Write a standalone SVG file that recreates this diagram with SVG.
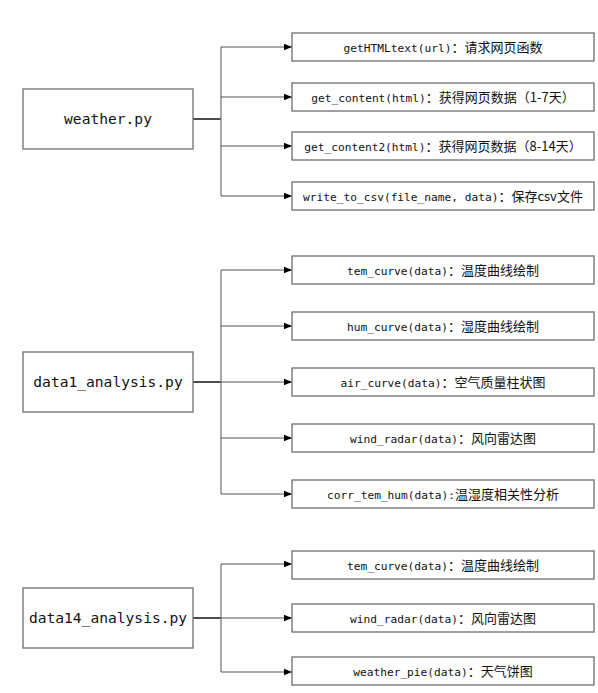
<svg xmlns="http://www.w3.org/2000/svg" width="598" height="693" viewBox="0 0 598 693">
<defs>
<style>
.box{fill:#fff;stroke:#6e6e6e;stroke-width:1.3}
.trunk{fill:none;stroke:#7a7a7a;stroke-width:1.3}
.main{fill:none;stroke:#111;stroke-width:1.5}
.br{fill:none;stroke:#555;stroke-width:1.2;marker-end:url(#ah)}
.mt{font-family:"DejaVu Sans Mono","Liberation Mono",monospace;font-size:14.6px;fill:#111;text-anchor:middle}
.ft{font-family:"DejaVu Sans Mono","Liberation Mono",monospace;font-size:11.2px;fill:#111;text-anchor:middle}
.cj{font-family:"Noto Sans CJK SC",sans-serif;font-size:13px}
</style>
<marker id="ah" viewBox="0 0 10 10" refX="10" refY="5" markerWidth="8" markerHeight="8" markerUnits="userSpaceOnUse" orient="auto">
<path d="M0,1 L10,5 L0,9 Z" fill="#000"/>
</marker>
</defs>
<rect width="598" height="693" fill="#fff"/>
<g id="connectors">
<path class="main" d="M193,119 H221"/>
<path class="trunk" d="M221,47 V196"/>
<path class="br" d="M221,47 H292"/>
<path class="br" d="M221,97 H292"/>
<path class="br" d="M221,146 H292"/>
<path class="br" d="M221,196 H292"/>
<path class="main" d="M193,382 H221"/>
<path class="trunk" d="M221,270 V494"/>
<path class="br" d="M221,270 H292"/>
<path class="br" d="M221,326 H292"/>
<path class="br" d="M221,382 H292"/>
<path class="br" d="M221,438 H292"/>
<path class="br" d="M221,494 H292"/>
<path class="main" d="M193,618 H221"/>
<path class="trunk" d="M221,564 V672"/>
<path class="br" d="M221,564 H292"/>
<path class="br" d="M221,618 H292"/>
<path class="br" d="M221,672 H292"/>
</g>
<g id="weather"><rect class="box" x="23" y="89" width="170" height="60"/><text class="mt" x="108" y="124">weather.py</text></g>
<g id="getHTMLtext"><rect class="box" x="292" y="33" width="302" height="28"/><text class="ft" x="443" y="51.5">getHTMLtext(url)<tspan class="cj">：请求网页函数</tspan></text></g>
<g id="get_content"><rect class="box" x="292" y="83" width="302" height="28"/><text class="ft" x="443" y="101.5">get_content(html)<tspan class="cj">：获得网页数据（1-7天）</tspan></text></g>
<g id="get_content2"><rect class="box" x="292" y="132" width="302" height="28"/><text class="ft" x="443" y="150.5">get_content2(html)<tspan class="cj">：获得网页数据（8-14天）</tspan></text></g>
<g id="write_to_csv"><rect class="box" x="292" y="182" width="302" height="28"/><text class="ft" x="443" y="200.5">write_to_csv(file_name, data)<tspan class="cj">：保存csv文件</tspan></text></g>

<g id="data1"><rect class="box" x="23" y="352" width="170" height="60"/><text class="mt" x="108" y="387">data1_analysis.py</text></g>
<g id="tem_curve1"><rect class="box" x="292" y="256" width="302" height="28"/><text class="ft" x="443" y="274.5">tem_curve(data)<tspan class="cj">：温度曲线绘制</tspan></text></g>
<g id="hum_curve"><rect class="box" x="292" y="312" width="302" height="28"/><text class="ft" x="443" y="330.5">hum_curve(data)<tspan class="cj">：湿度曲线绘制</tspan></text></g>
<g id="air_curve"><rect class="box" x="292" y="368" width="302" height="28"/><text class="ft" x="443" y="386.5">air_curve(data)<tspan class="cj">：空气质量柱状图</tspan></text></g>
<g id="wind_radar1"><rect class="box" x="292" y="424" width="302" height="28"/><text class="ft" x="443" y="442.5">wind_radar(data)<tspan class="cj">：风向雷达图</tspan></text></g>
<g id="corr"><rect class="box" x="292" y="480" width="302" height="28"/><text class="ft" x="443" y="498.5">corr_tem_hum(data):<tspan class="cj">温湿度相关性分析</tspan></text></g>

<g id="data14"><rect class="box" x="23" y="588" width="170" height="60"/><text class="mt" x="108" y="623">data14_analysis.py</text></g>
<g id="tem_curve2"><rect class="box" x="292" y="551" width="302" height="28"/><text class="ft" x="443" y="569.5">tem_curve(data)<tspan class="cj">：温度曲线绘制</tspan></text></g>
<g id="wind_radar2"><rect class="box" x="292" y="604" width="302" height="28"/><text class="ft" x="443" y="622.5">wind_radar(data)<tspan class="cj">：风向雷达图</tspan></text></g>
<g id="weather_pie"><rect class="box" x="292" y="657" width="302" height="28"/><text class="ft" x="443" y="675.5">weather_pie(data)<tspan class="cj">：天气饼图</tspan></text></g>
</svg>
